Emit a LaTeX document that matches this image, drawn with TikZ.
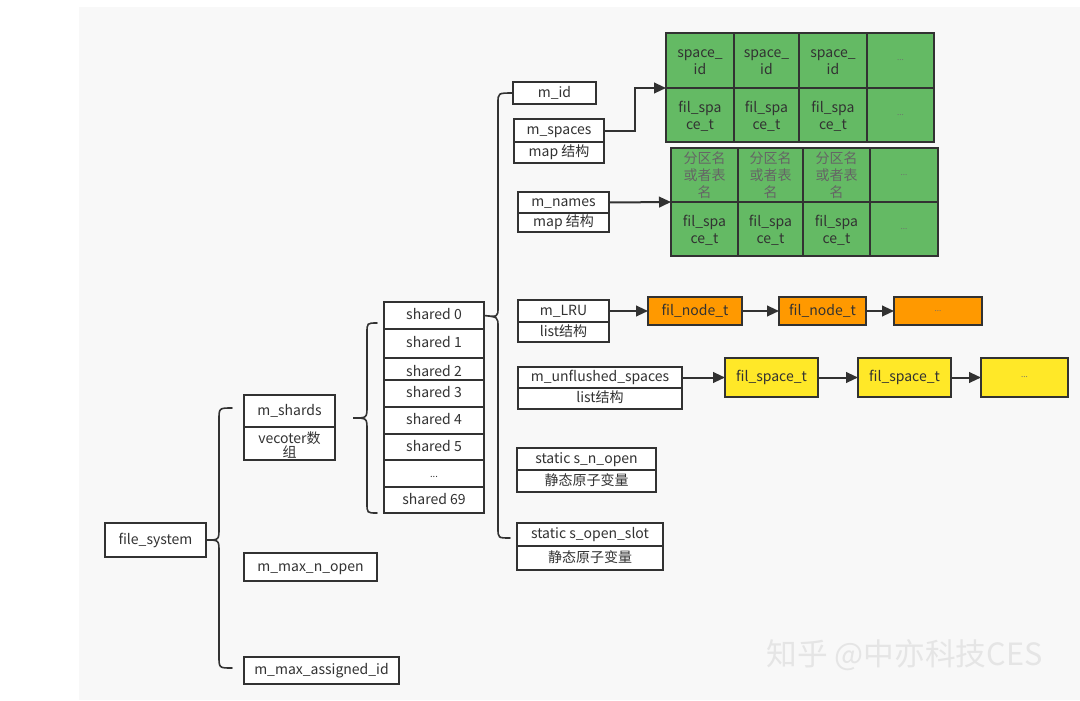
\documentclass[tikz,border=0pt]{standalone}
\usepackage{fontspec}
\setmainfont{Noto Sans CJK SC}
\usetikzlibrary{arrows.meta}
\definecolor{bgc}{RGB}{248,248,248}
\definecolor{ink}{RGB}{50,50,50}
\definecolor{grn}{RGB}{100,186,100}
\definecolor{org}{RGB}{255,153,0}
\definecolor{ylw}{RGB}{255,232,40}
\newcommand\bx[7][]{\node[box,#1,minimum width={(#5-#3)*0.75pt},minimum height={(#6-#4)*0.75pt}] (#2) at ({(#3+#5)/2},{(#4+#6)/2}) {#7};}
\newcommand\bm[7][]{\bx[#1]{#2}{#3}{#4}{#5}{#6}{}\node[mtxt] (#2t) at (#2) {#7};}
\begin{document}
\begin{tikzpicture}[x=0.75pt,y=-0.75pt,
  box/.style={draw=ink, line width=1.4pt, fill=white, inner sep=0pt, outer sep=0pt,
    text=ink, font=\fontsize{10.5}{12.5}\selectfont, text height=8pt, text depth=1.6pt},
  mtxt/.style={align=center, inner sep=0pt, text=ink, font=\fontsize{10.5}{12.5}\selectfont, yshift=-1.2pt},
  gbox/.style={box, fill=grn},
  obox/.style={box, fill=org},
  ybox/.style={box, fill=ylw},
  dots/.style={font=\fontsize{6}{7}\selectfont, text=ink!70},
  arr/.style={draw=ink, line width=1.5pt, -{Triangle[length=9pt,width=8pt]}},
  brace/.style={draw=ink, line width=1.2pt, line cap=round}]
\useasboundingbox (0,0) rectangle (1080,700);
\fill[white] (0,0) rectangle (1080,700);
\fill[bgc] (79,7) rectangle (1080,700);

% left column
\bx{fs}{105}{523}{206}{557}{file\_system}
\bx{mshA}{244}{395}{335}{427}{m\_shards}
\bm{mshB}{244}{427}{335}{460}{vecoter数\\[-1.5pt]组}
\bx{mmaxn}{244}{553}{377}{581}{m\_max\_n\_open}
\bx{mmaxa}{244}{657}{399}{684}{m\_max\_assigned\_id}

% shards column
\bx{sh0}{384}{302}{484}{329}{shared 0}
\bx{sh1}{384}{329}{484}{358}{shared 1}
\bx{sh2}{384}{358}{484}{387}{shared 2}
\bx{sh3}{384}{380}{484}{407}{shared 3}
\bx{sh4}{384}{407}{484}{434}{shared 4}
\bx{sh5}{384}{434}{484}{460}{shared 5}
\bx[font=\fontsize{7}{8}\selectfont]{shd}{384}{460}{484}{487}{...}
\bx{sh69}{384}{487}{484}{513}{shared 69}

% members
\bx{mid}{513}{82}{596}{104}{m\_id}
\bx{mspA}{514}{119}{604}{142}{m\_spaces}
\bx{mspB}{514}{142}{604}{163}{map 结构}
\bx{mnmA}{518}{192}{609}{213}{m\_names}
\bx{mnmB}{518}{213}{609}{232}{map 结构}
\bx{mlruA}{518}{300}{609}{322}{m\_LRU}
\bx{mlruB}{518}{322}{609}{342}{list结构}
\bx{mufA}{518}{367}{682}{388}{m\_unflushed\_spaces}
\bx{mufB}{518}{388}{682}{409}{list结构}
\bx{snoA}{517}{448}{656}{470}{static s\_n\_open}
\bx{snoB}{517}{470}{656}{492}{静态原子变量}
\bx{ssoA}{517}{523}{663}{546}{static s\_open\_slot}
\bx{ssoB}{517}{546}{663}{570}{静态原子变量}

% green grid 1
\bm[gbox]{ga1}{666}{33}{734}{88}{space\_\\id}
\bm[gbox]{ga2}{734}{33}{799}{88}{space\_\\id}
\bm[gbox]{ga3}{799}{33}{867}{88}{space\_\\id}
\bx[gbox]{ga4}{867}{33}{934}{88}{}
\node[dots] (ga4t) at (ga4) {...};
\bm[gbox]{gb1}{666}{88}{734}{142}{fil\_spa\\ce\_t}
\bm[gbox]{gb2}{734}{88}{799}{142}{fil\_spa\\ce\_t}
\bm[gbox]{gb3}{799}{88}{867}{142}{fil\_spa\\ce\_t}
\bx[gbox]{gb4}{867}{88}{934}{142}{}
\node[dots] (gb4t) at (gb4) {...};

% green grid 2
\bx[gbox]{gc1}{671}{148}{738}{202}{}
\bx[gbox]{gc2}{738}{148}{803}{202}{}
\bx[gbox]{gc3}{803}{148}{870}{202}{}
\foreach \c in {gc1,gc2,gc3}
  \node[mtxt, yshift=1.2pt, text=ink!75] (\c t) at (\c) {分区名\\或者表\\名};
\bx[gbox]{gc4}{870}{148}{938}{202}{}
\node[dots] (gc4t) at (gc4) {...};
\bm[gbox]{gd1}{671}{202}{738}{256}{fil\_spa\\ce\_t}
\bm[gbox]{gd2}{738}{202}{803}{256}{fil\_spa\\ce\_t}
\bm[gbox]{gd3}{803}{202}{870}{256}{fil\_spa\\ce\_t}
\bx[gbox]{gd4}{870}{202}{938}{256}{}
\node[dots] (gd4t) at (gd4) {...};

% orange list
\bx[obox]{o1}{648}{297}{742}{325}{fil\_node\_t}
\bx[obox]{o2}{779}{297}{866}{325}{fil\_node\_t}
\bx[obox]{o3}{894}{297}{982}{325}{}
\node[dots] (o3t) at (o3) {...};

% yellow list
\bx[ybox]{y1}{725}{358}{818}{397}{fil\_space\_t}
\bx[ybox]{y2}{858}{358}{951}{397}{fil\_space\_t}
\bx[ybox]{y3}{981}{358}{1068}{397}{}
\node[dots] (y3t) at (y3) {...};

% arrows
\draw[arr] (mspA.east) -- ++(31,0) |- (gb1.north west);
\draw[arr] (mnmA.east) -- (gd1.north west);
\draw[arr] (mlruA.east) -- (o1.west);
\draw[arr] (o1) -- (o2);
\draw[arr] (o2) -- (o3);
\draw[arr] (mufA.east) -- (y1.west);
\draw[arr] (y1) -- (y2);
\draw[arr] (y2) -- (y3);

% braces
\coordinate (t2) at (353,418);
\draw[brace] (232,408) .. controls (219,408) .. (219,420) -- (219,528)
  .. controls (219,540) .. (fs.east) .. controls (219,540) .. (219,552)
  -- (219,656) .. controls (219,668) .. (232,668);
\draw[brace] (377,323) .. controls (367,323) .. (367,333) -- (367,406)
  .. controls (367,418) .. (t2) .. controls (367,418) .. (367,430)
  -- (367,503) .. controls (367,513) .. (377,513);
\draw[brace] (mid.west) .. controls (498,93) .. (498,103) -- (498,307)
  .. controls (498,317) .. (sh0.east) .. controls (498,317) .. (498,327)
  -- (498,528) .. controls (498,538) .. (510,538);

% watermark
\node[text=black!10, font=\fontsize{23}{24}\selectfont, anchor=west] (wm) at (762,655) {知乎 @中亦科技CES};
\end{tikzpicture}
\end{document}
